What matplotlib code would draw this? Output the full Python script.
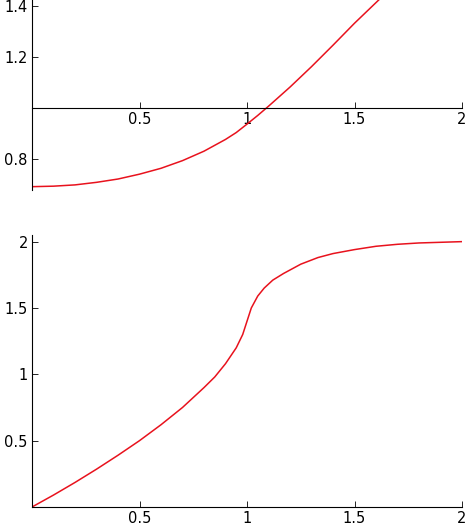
import matplotlib
matplotlib.use("Agg")
import matplotlib.pyplot as plt

top_x = [0, 0.1, 0.2, 0.3, 0.4, 0.5, 0.6, 0.7, 0.8, 0.9, 0.95, 1.0, 1.05, 1.1, 1.2, 1.3, 1.4, 1.5, 1.62]
top_y = [0.693, 0.695, 0.70, 0.71, 0.723, 0.742, 0.765, 0.795, 0.832, 0.878, 0.905, 0.938, 0.972, 1.008, 1.083, 1.163, 1.247, 1.333, 1.43]
bot_x = [0, 0.1, 0.2, 0.3, 0.4, 0.5, 0.6, 0.7, 0.8, 0.85, 0.9, 0.95, 0.98, 1.0, 1.02, 1.05, 1.08, 1.12, 1.17, 1.25, 1.33, 1.4, 1.5, 1.6, 1.7, 1.8, 1.9, 2.0]
bot_y = [0, 0.09, 0.185, 0.285, 0.39, 0.5, 0.62, 0.75, 0.9, 0.98, 1.08, 1.2, 1.3, 1.4, 1.5, 1.59, 1.65, 1.71, 1.76, 1.83, 1.88, 1.91, 1.94, 1.965, 1.98, 1.99, 1.995, 2.0]
xticks = [0.5, 1, 1.5, 2]
xlabels = ["0.5", "1", "1.5", "2"]
top_yticks = [0.8, 1.2, 1.4]
bot_yticks = [0.5, 1, 1.5, 2]

W, H = 474, 524
fig = plt.figure(figsize=(W/100, H/100), dpi=100)

def style(ax, yorigin):
    for s in ["top", "right"]:
        ax.spines[s].set_visible(False)
    ax.spines["left"].set_position(("data", 0))
    ax.spines["bottom"].set_position(("data", yorigin))
    for s in ["left", "bottom"]:
        ax.spines[s].set_linewidth(0.8)
    ax.tick_params(direction="in", length=4, width=0.6, labelsize=10.5, pad=3)
    ax.set_xticks(xticks, xlabels)
    ax.patch.set_alpha(0)

ax1 = fig.add_axes([32/W, 1-190/H, 430/W, 190/H])
ax1.plot(top_x, top_y, color="#e8121d", lw=1.1)
ax1.set_xlim(0, 2.0)
ax1.set_ylim(0.68, 1.424)
style(ax1, 1.0)
ax1.set_yticks(top_yticks, ["0.8", "1.2", "1.4"])

ax2 = fig.add_axes([32/W, 1-507/H, 430/W, 272/H])
ax2.plot(bot_x, bot_y, color="#e8121d", lw=1.1)
ax2.set_xlim(0, 2.0)
ax2.set_ylim(0, 2.05)
style(ax2, 0)
ax2.set_yticks(bot_yticks, ["0.5", "1", "1.5", "2"])

fig.savefig("out.png", dpi=100)
